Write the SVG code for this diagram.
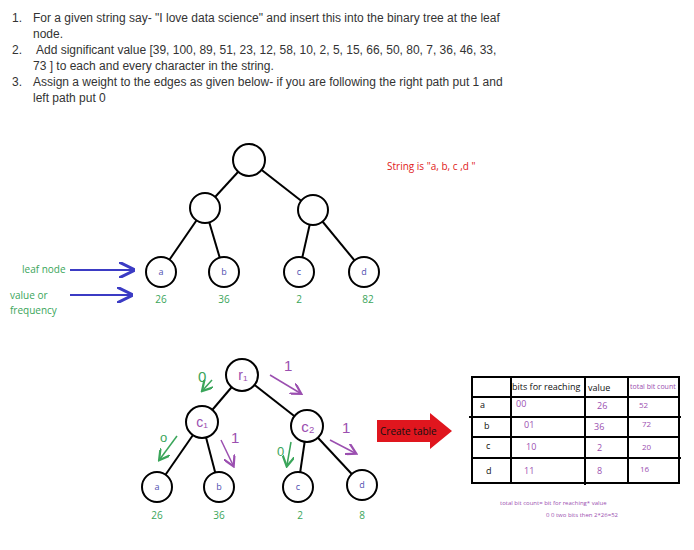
<svg xmlns="http://www.w3.org/2000/svg" width="694" height="550" viewBox="0 0 694 550">
<defs>
<style>
.t{font-family:"Liberation Sans",Arial,sans-serif;font-size:12px;fill:#333}
.s{font-family:"Open Sans","Liberation Sans",sans-serif}
.n{fill:#fff;stroke:#000;stroke-width:2}
.e{stroke:#000;stroke-width:2}
.g{fill:#3aa55a;font-size:10px}
.p{fill:#9b4fb0}
.bl{fill:#5050b0;font-size:9px}
.tb{font-size:8px;fill:#9b4fb0}
</style>
<marker id="ab" markerWidth="8" markerHeight="8" refX="7" refY="4" orient="auto"><path d="M0,0 L8,4 L0,8" fill="none" stroke="#3b3bc4" stroke-width="1.5"/></marker>
<marker id="ag" markerWidth="8" markerHeight="8" refX="6" refY="4" orient="auto"><path d="M0,0 L7,4 L0,8" fill="none" stroke="#3aa55a" stroke-width="1.5"/></marker>
<marker id="ap" markerWidth="8" markerHeight="8" refX="6" refY="4" orient="auto"><path d="M0,0 L7,4 L0,8" fill="none" stroke="#9b4fb0" stroke-width="1.5"/></marker>
</defs>
<rect width="694" height="550" fill="#fff"/>
<g id="instructions" class="t">
<text x="12" y="22">1.</text><text x="33" y="22">For a given string say- "I love data science" and insert this into the binary tree at the leaf</text>
<text x="33" y="38">node.</text>
<text x="12" y="54">2.</text><text x="36" y="54">Add significant value [39, 100, 89, 51, 23, 12, 58, 10, 2, 5, 15, 66, 50, 80, 7, 36, 46, 33,</text>
<text x="33" y="70">73  ] to each and every character in the string.</text>
<text x="12" y="86">3.</text><text x="33" y="86">Assign a weight to the edges as given below- if you are following the right path put 1 and</text>
<text x="33" y="102">left path put 0</text>
</g>
<g id="connectors">
<line class="e" x1="249" y1="160" x2="205" y2="208"/><line class="e" x1="249" y1="160" x2="313" y2="210"/>
<line class="e" x1="205" y1="208" x2="161" y2="272"/><line class="e" x1="205" y1="208" x2="224" y2="272"/>
<line class="e" x1="313" y1="210" x2="299" y2="272"/><line class="e" x1="313" y1="210" x2="364" y2="272"/>
<line x1="70" y1="270" x2="133" y2="270" stroke="#3b3bc4" stroke-width="2" marker-end="url(#ab)"/>
<line x1="70" y1="295" x2="131" y2="295" stroke="#3b3bc4" stroke-width="2" marker-end="url(#ab)"/>
<line class="e" x1="242" y1="375" x2="202" y2="422"/><line class="e" x1="242" y1="375" x2="307" y2="426"/>
<line class="e" x1="202" y1="422" x2="157" y2="487"/><line class="e" x1="202" y1="422" x2="219" y2="487"/>
<line class="e" x1="307" y1="426" x2="298" y2="487"/><line class="e" x1="307" y1="426" x2="362" y2="485"/>
<line x1="212" y1="380" x2="203" y2="390" stroke="#3aa55a" stroke-width="1.5" marker-end="url(#ag)"/>
<line x1="270" y1="375" x2="300" y2="393" stroke="#9b4fb0" stroke-width="1.5" marker-end="url(#ap)"/>
<line x1="177" y1="436" x2="160" y2="459" stroke="#3aa55a" stroke-width="1.5" marker-end="url(#ag)"/>
<line x1="221" y1="440" x2="233" y2="465" stroke="#9b4fb0" stroke-width="1.5" marker-end="url(#ap)"/>
<line x1="291" y1="442" x2="287" y2="465" stroke="#3aa55a" stroke-width="1.5" marker-end="url(#ag)"/>
<line x1="330" y1="440" x2="355" y2="453" stroke="#9b4fb0" stroke-width="1.5" marker-end="url(#ap)"/>
</g>
<g id="top-tree" class="s">
<circle class="n" cx="249" cy="160" r="16"/>
<circle class="n" cx="205" cy="208" r="15"/>
<circle class="n" cx="313" cy="210" r="15"/>
<g id="leaf-a"><circle class="n" cx="161" cy="272" r="15"/><text class="bl" x="161" y="275" text-anchor="middle">a</text></g>
<g id="leaf-b"><circle class="n" cx="224" cy="272" r="15"/><text class="bl" x="224" y="275" text-anchor="middle">b</text></g>
<g id="leaf-c"><circle class="n" cx="299" cy="272" r="15"/><text class="bl" x="299" y="275" text-anchor="middle">c</text></g>
<g id="leaf-d"><circle class="n" cx="364" cy="272" r="15"/><text class="bl" x="364" y="275" text-anchor="middle">d</text></g>
<text class="g" x="161" y="303" text-anchor="middle">26</text>
<text class="g" x="224" y="303" text-anchor="middle">36</text>
<text class="g" x="299" y="303" text-anchor="middle">2</text>
<text class="g" x="368" y="303" text-anchor="middle">82</text>
<text class="g" x="22" y="273">leaf node</text>
<text class="g" x="10" y="299">value or</text>
<text class="g" x="10" y="314">frequency</text>
<text x="387" y="170" font-size="10" fill="#e02020">String is "a, b, c ,d "</text>
</g>
<g id="bottom-tree" class="s">
<g id="r1"><circle class="n" cx="242" cy="375" r="16"/><text x="243" y="380" font-size="14" fill="#9b4fb0" text-anchor="middle" font-family="Liberation Sans">r₁</text></g>
<g id="c1"><circle class="n" cx="202" cy="422" r="16"/><text x="202" y="427" font-size="14" fill="#9b4fb0" text-anchor="middle" font-family="Liberation Sans">c₁</text></g>
<g id="c2"><circle class="n" cx="307" cy="426" r="16"/><text x="308" y="432" font-size="15" fill="#9b4fb0" text-anchor="middle" font-family="Liberation Sans">c₂</text></g>
<g id="a"><circle class="n" cx="157" cy="487" r="15"/><text class="bl" x="157" y="490" text-anchor="middle">a</text></g>
<g id="b"><circle class="n" cx="219" cy="487" r="15"/><text class="bl" x="219" y="490" text-anchor="middle">b</text></g>
<g id="c"><circle class="n" cx="298" cy="487" r="15"/><text class="bl" x="298" y="490" text-anchor="middle">c</text></g>
<g id="d"><circle class="n" cx="362" cy="485" r="15"/><text class="bl" x="362" y="488" text-anchor="middle">d</text></g>
<text class="g" x="157" y="519" text-anchor="middle">26</text>
<text class="g" x="219" y="519" text-anchor="middle">36</text>
<text class="g" x="300" y="519" text-anchor="middle">2</text>
<text class="g" x="362" y="519" text-anchor="middle">8</text>
<text x="198" y="382" font-size="15" fill="#3aa55a" font-family="Liberation Sans">0</text>
<text x="284" y="371" font-size="15" fill="#9b4fb0" font-family="Liberation Sans">1</text>
<text x="160" y="442" font-size="13" fill="#3aa55a" font-family="Liberation Sans">o</text>
<text x="231" y="443" font-size="15" fill="#9b4fb0" font-family="Liberation Sans">1</text>
<text x="277" y="456" font-size="13" fill="#3aa55a" font-family="Liberation Sans">0</text>
<text x="342" y="433" font-size="15" fill="#9b4fb0" font-family="Liberation Sans">1</text>
</g>
<g id="create-table">
<path d="M377,420 L430,420 L430,413 L452,431 L430,449 L430,442 L377,442 Z" fill="#e0161e"/>
<text x="380" y="435" font-size="10" fill="#111" font-family="Open Sans,sans-serif">Create table</text>
</g>
<g id="table" class="s" stroke="#000" stroke-width="2">
<rect x="472" y="377" width="207" height="106" fill="none"/>
<line x1="472" y1="397" x2="679" y2="397"/><line x1="469" y1="417" x2="681" y2="417"/>
<line x1="472" y1="437" x2="679" y2="437"/><line x1="472" y1="458" x2="681" y2="458"/>
<line x1="511" y1="377" x2="511" y2="483"/><line x1="585" y1="377" x2="585" y2="485"/><line x1="628" y1="377" x2="628" y2="483"/>
<g stroke="none" font-size="9">
<text x="512" y="390" fill="#111">bits for reaching</text>
<text x="588" y="391" fill="#111">value</text>
<text x="630" y="389" font-size="7" class="p">total bit count</text>
<text x="480" y="408" fill="#111">a</text><text x="484" y="429" fill="#111">b</text><text x="486" y="449" fill="#111">c</text><text x="486" y="474" fill="#111">d</text>
<text x="516" y="407" class="p">00</text><text x="524" y="428" class="p">01</text><text x="526" y="450" class="p">10</text><text x="524" y="474" class="p">11</text>
<text x="597" y="409" class="p">26</text><text x="594" y="430" class="p">36</text><text x="597" y="451" class="p">2</text><text x="597" y="474" class="p">8</text>
<text x="639" y="408" class="tb">52</text><text x="642" y="427" class="tb">72</text><text x="642" y="450" class="tb">20</text><text x="640" y="472" class="tb">16</text>
</g>
</g>
<g id="note" class="s" font-size="6" fill="#9b4fb0">
<text x="500" y="505">total bit count= bit for reaching* value</text>
<text x="546" y="517">0 0 two bits then 2*26=52</text>
</g>
</svg>
